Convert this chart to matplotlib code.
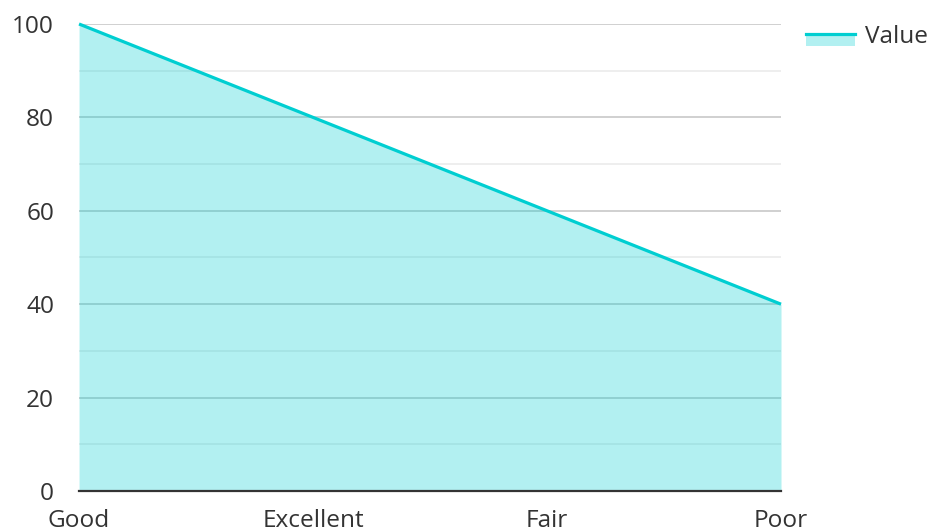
import matplotlib
matplotlib.use("Agg")
import matplotlib.pyplot as plt
from matplotlib.legend_handler import HandlerBase
from matplotlib.patches import Rectangle
from matplotlib.lines import Line2D

categories = ["Good", "Excellent", "Fair", "Poor"]
values = [100, 80, 60, 40]
series_name = "Value"

LINE = "#00CED1"
TEXT = "#333333"
FS = 17.6

plt.rcParams["font.family"] = ["Open Sans", "DejaVu Sans"]

fig = plt.figure(figsize=(9.31, 5.32), dpi=100)
ax = fig.add_axes([0.0849, 0.0771, 0.8389 - 0.0849, 0.9549 - 0.0771])

x = list(range(len(categories)))

# gridlines sit beneath the translucent area
for v in range(10, 101, 10):
    major = v % 20 == 0
    ax.axhline(v, color="#c8c8c8" if major else "#ebebeb", lw=1.2, zorder=0)

ax.fill_between(x, values, 0, color=LINE, alpha=0.3, lw=0, zorder=1)
ax.plot(x, values, color=LINE, lw=2.3, zorder=3, clip_on=False,
        solid_capstyle="butt")

ax.set_xlim(0, len(categories) - 1)
ax.set_ylim(0, 100)
ax.set_xticks(x)
ax.set_xticklabels(categories)
ax.set_yticks(range(0, 101, 20))

for s in ["top", "right", "left"]:
    ax.spines[s].set_visible(False)
ax.spines["bottom"].set_color(TEXT)
ax.spines["bottom"].set_linewidth(1.6)
ax.spines["bottom"].set_zorder(4)

ax.tick_params(axis="both", length=0, labelsize=FS, labelcolor=TEXT)
ax.tick_params(axis="y", pad=18)
ax.tick_params(axis="x", pad=13)


class AreaHandler(HandlerBase):
    def create_artists(self, legend, orig_handle, xdescent, ydescent,
                       width, height, fontsize, trans):
        mid = height / 2 - ydescent
        rect = Rectangle((-xdescent, -ydescent - height * 0.2), width,
                         mid + ydescent + height * 0.2,
                         facecolor=LINE, alpha=0.3, lw=0, transform=trans)
        line = Line2D([-xdescent, -xdescent + width], [mid, mid],
                      color=LINE, lw=2.3, transform=trans)
        return [rect, line]


proxy = Rectangle((0, 0), 1, 1)
fig.legend([proxy], [series_name], handler_map={Rectangle: AreaHandler()},
           loc="upper left", bbox_to_anchor=(806 / 931, 1 - 25 / 532),
           frameon=False, fontsize=FS, labelcolor=TEXT,
           handlelength=2.0, handletextpad=0.4, borderpad=0,
           borderaxespad=0)

fig.savefig("out.png", dpi=100)
